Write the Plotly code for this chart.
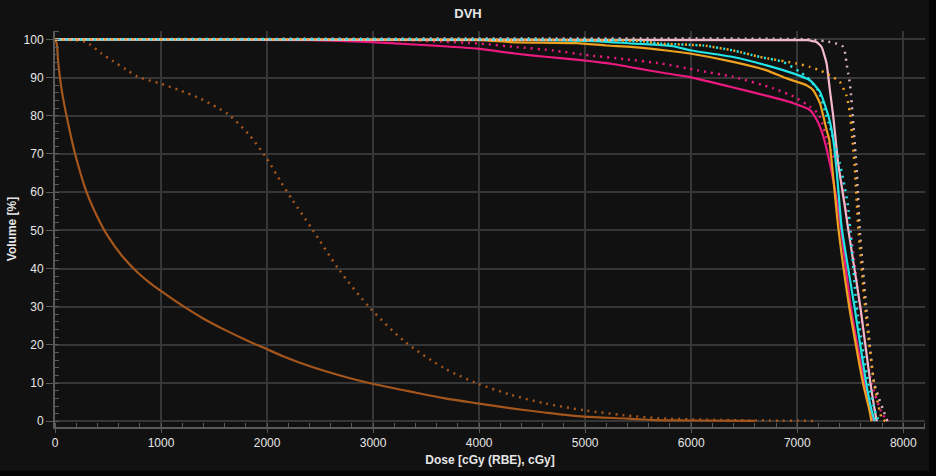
import plotly.graph_objects as go

# ---------------- data ----------------
brown_solid_dose = [0, 16, 31, 63, 110, 188, 298, 400, 500, 641, 767, 900, 995, 1205, 1393, 1612, 1831, 1997, 2144,
                    2426, 2739, 2983, 3365, 3678, 3985, 4304, 4617, 4986, 5400, 5650, 6000, 6600]
brown_solid_vol = [100, 98.9, 93.7, 86.7, 79.8, 70.2, 60.0, 53.5, 48.4, 43.0, 39.3, 36.1, 34.2, 30.2, 27.0, 23.8,
                   20.9, 18.9, 17.1, 14.2, 11.6, 9.9, 7.7, 6.0, 4.7, 3.4, 2.3, 1.2, 0.7, 0.3, 0.2, 0.1]

brown_dot_dose = [0, 266, 329, 438, 548, 667, 782, 986, 1174, 1362, 1534, 1643, 1831, 1988, 2128, 2238, 2426,
                  2676, 2973, 3302, 3678, 3985, 4304, 4617, 4986, 5368, 5681, 6150, 6620, 7150]
brown_dot_vol = [100, 99.5, 98.7, 96.3, 94.3, 92.2, 90.2, 88.5, 86.7, 84.6, 82.1, 80.2, 75.0, 69.2, 62.8, 58.0, 50.3,
                 39.8, 29.6, 20.8, 13.8, 9.9, 6.9, 4.7, 2.9, 1.6, 0.8, 0.4, 0.2, 0.1]

pink_solid_dose = [0, 2400, 3000, 3240, 3615, 3985, 4335, 4648, 4983, 5274, 5493, 5744, 5978, 6369, 6745, 6964,
                   7120, 7185, 7246, 7300, 7355, 7400, 7505, 7635, 7680, 7715]
pink_solid_vol = [100, 99.8, 99.3, 98.9, 98.3, 97.6, 96.3, 95.4, 94.5, 93.5, 92.4, 91.2, 90.2, 87.6, 85.0, 83.3,
                  81.5, 78.9, 74.6, 68.5, 60.7, 53.0, 30, 10, 4, 0]

pink_dot_dose = [0, 3300, 3590, 4008, 4354, 4699, 5039, 5384, 5714, 6060, 6396, 6774, 6968, 7088, 7198, 7230,
                 7292, 7402, 7449, 7496, 7590, 7700, 7800, 7860]
pink_dot_vol = [100, 99.8, 99.5, 98.9, 98.0, 97.1, 95.8, 94.8, 93.7, 91.9, 90.2, 87.2, 85.0, 83.0, 80.6, 78.5,
                72.8, 65.0, 57.2, 51.1, 30, 10, 2, 0]

orange_solid_dose = [0, 4000, 4290, 4919, 5202, 5453, 5768, 5988, 6396, 6711, 6900, 7088, 7151, 7214, 7277, 7302,
                     7386, 7490, 7620, 7680, 7700]
orange_solid_vol = [100, 99.8, 99.3, 99.0, 98.4, 98.0, 97.1, 96.3, 94.1, 91.9, 89.8, 88.0, 86.7, 83.3, 76.3, 73.7,
                    51.0, 30, 10, 3, 0]

cyan_solid_dose = [0, 4500, 5139, 5450, 5610, 5830, 6003, 6396, 6711, 6962, 7119, 7214, 7277, 7308, 7340, 7371,
                   7418, 7540, 7650, 7700, 7730]
cyan_solid_vol = [100, 99.9, 99.5, 98.9, 98.7, 98.2, 97.1, 95.4, 93.2, 91.1, 89.3, 86.3, 81.5, 78.5, 73.7, 65.9,
                  51.0, 30, 10, 3, 0]

cyan_dot_dose = [0, 5300, 5600, 5705, 6113, 6396, 6648, 6868, 7025, 7088, 7200, 7277, 7308, 7386, 7434, 7481,
                 7560, 7670, 7740, 7770]
cyan_dot_vol = [100, 99.8, 99.3, 98.9, 98.4, 97.1, 95.4, 94.1, 91.5, 90.2, 86.5, 79.8, 77.2, 69.4, 63.3, 56.0,
                30, 10, 2, 0]

orange_dot_dose = [0, 5500, 5705, 6113, 6396, 6648, 6994, 7119, 7214, 7308, 7402, 7465, 7496, 7521, 7544, 7575,
                   7640, 7725, 7795, 7830]
orange_dot_vol = [100, 99.6, 98.9, 98.4, 97.1, 95.4, 93.7, 92.8, 91.9, 90.6, 88.9, 85.2, 81.0, 73.7, 65.9, 51.1,
                  30, 10, 1, 0]

lightpink_solid_dose = [0, 7100, 7151, 7182, 7230, 7277, 7308, 7340, 7386, 7449, 7481, 7595, 7690, 7730, 7750]
lightpink_solid_vol = [100, 99.8, 99.5, 99.3, 98.0, 93.7, 86.7, 79.8, 67.6, 56.3, 50.3, 30, 10, 3, 0]

lightpink_dot_dose = [0, 7119, 7308, 7371, 7428, 7453, 7465, 7481, 7496, 7506, 7521, 7560, 7590, 7650, 7725, 7850]
lightpink_dot_vol = [100, 100, 99.3, 98.9, 98.2, 96.3, 93.7, 91.1, 88.5, 85.9, 80.6, 66, 50, 30, 10, 0]

x_tick_vals = [0, 1000, 2000, 3000, 4000, 5000, 6000, 7000, 8000]
y_tick_vals = [0, 10, 20, 30, 40, 50, 60, 70, 80, 90, 100]

# ---------------- styles ----------------
BROWN = "#a5561c"
PINK = "#ea1a7f"
ORANGE = "#eea21f"
CYAN = "#22e4e4"
LPINK = "#f3b9c9"
LPINK_DOT = "#d9b3bf"
DOT = "2px,5px"
DOT_SHIFT = "0px,3.5px,2px,1.5px"

series = [
    (brown_solid_dose, brown_solid_vol, BROWN, 2.2, "solid", 0.8),
    (brown_dot_dose, brown_dot_vol, BROWN, 2.5, DOT, 0.8),
    (pink_dot_dose, pink_dot_vol, PINK, 2.5, DOT, 0.5),
    (pink_solid_dose, pink_solid_vol, PINK, 2.2, "solid", 0.5),
    (orange_solid_dose, orange_solid_vol, ORANGE, 2.2, "solid", 0.5),
    (cyan_solid_dose, cyan_solid_vol, CYAN, 2.2, "solid", 0.5),
    (lightpink_solid_dose, lightpink_solid_vol, LPINK, 2.2, "solid", 0.4),
    (lightpink_dot_dose, lightpink_dot_vol, LPINK_DOT, 2.5, DOT_SHIFT, 0.4),
    (cyan_dot_dose, cyan_dot_vol, CYAN, 2.5, DOT_SHIFT, 0.5),
    (orange_dot_dose, orange_dot_vol, ORANGE, 2.5, DOT, 0.5),
]

fig = go.Figure()
for xs, ys, col, w, dash, sm in series:
    fig.add_trace(go.Scatter(x=xs, y=ys, mode="lines",
                             line=dict(color=col, width=w, dash=dash, shape="spline", smoothing=sm),
                             hoverinfo="skip"))

FONT = "Liberation Sans, Arial, sans-serif"
TXT = "#e6e6e6"
GRID = "#363636"
AXIS = "#5a5a5a"

fig.update_layout(
    width=936, height=476,
    margin=dict(l=55, r=11, t=31, b=47),
    paper_bgcolor="#111111", plot_bgcolor="#111111",
    showlegend=False,
    font=dict(family=FONT, color=TXT, size=12),
    title=dict(text="<b>DVH</b>", x=0.5, xref="container", xanchor="center",
               y=1 - 13 / 476, yref="container", yanchor="middle",
               font=dict(family=FONT, size=13, color=TXT)),
    xaxis=dict(range=[0, 8205], tickvals=x_tick_vals, showgrid=True, gridcolor=GRID, gridwidth=2,
               zeroline=False, showline=True, linecolor=AXIS, linewidth=2,
               ticks="outside", ticklen=4, tickcolor=AXIS, tickwidth=1,
               minor=dict(dtick=200, ticks="inside", ticklen=4, tickcolor=AXIS, showgrid=False),
               tickfont=dict(size=12, color=TXT),
               title=dict(text="<b>Dose [cGy (RBE), cGy]</b>", standoff=6,
                          font=dict(size=12, color=TXT))),
    yaxis=dict(range=[-1.5, 102.2], tickvals=y_tick_vals, showgrid=True, gridcolor=GRID, gridwidth=2,
               zeroline=False, showline=True, linecolor=AXIS, linewidth=2,
               ticks="outside", ticklen=7, tickcolor=AXIS, tickwidth=1,
               minor=dict(dtick=2, ticks="inside", ticklen=4, tickcolor=AXIS, showgrid=False),
               tickfont=dict(size=12, color=TXT),
               title=dict(text="<b>Volume [%]</b>", standoff=4,
                          font=dict(size=12, color=TXT))),
    shapes=[
        dict(type="rect", xref="paper", yref="paper", x0=1 + 4 / 870, x1=1 + 20 / 870, y0=-1, y1=2,
             fillcolor="#050505", line=dict(width=0), layer="above"),
        dict(type="rect", xref="paper", yref="paper", x0=-1, x1=2, y0=-(473 - 429) / 398,
             y1=-(476 - 429 + 20) / 398, fillcolor="#050505", line=dict(width=0), layer="above"),
    ],
)

fig.write_html("out.html")
